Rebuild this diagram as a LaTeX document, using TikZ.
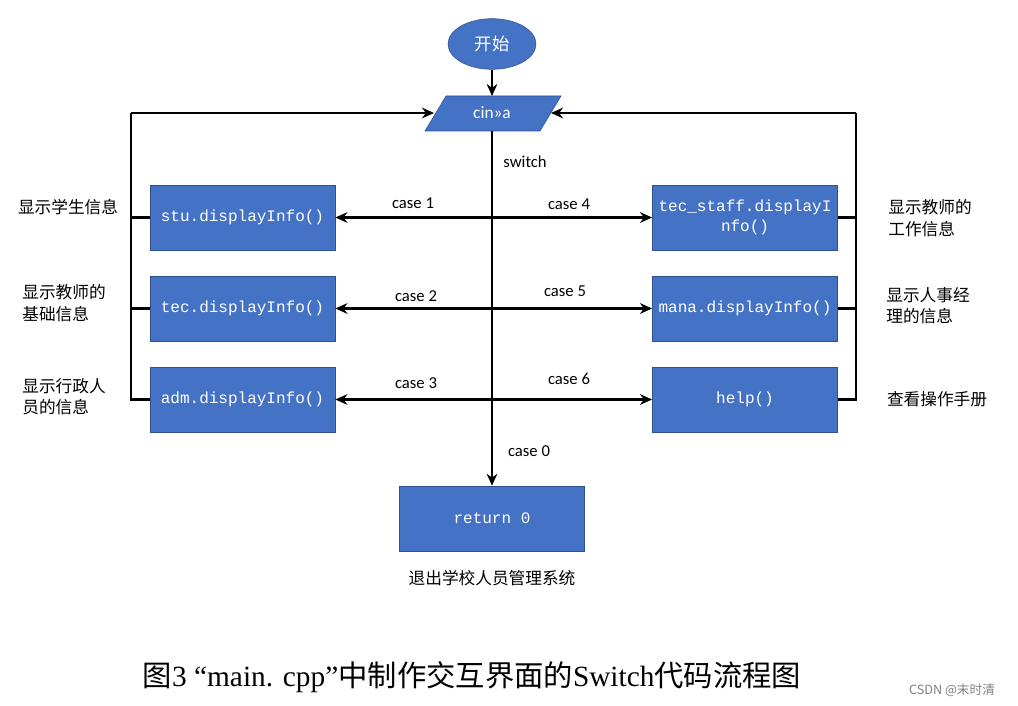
\documentclass[tikz,border=0pt]{standalone}
\usepackage{fontspec}
\setmainfont{Carlito}
\newfontfamily\cjk{Noto Sans CJK SC}
\newfontfamily\cmono{Liberation Mono}
\newfontfamily\capfont{Liberation Serif}
\usetikzlibrary{shapes.geometric,arrows.meta}
\definecolor{bx}{HTML}{4472C4}
\definecolor{bd}{HTML}{2F528F}
\begin{document}
\begin{tikzpicture}[x=0.75pt,y=-0.75pt,
  fbox/.style={draw=bd,fill=bx,text=white,minimum width=139pt,minimum height=48.75pt,inner sep=0pt,font=\cmono\fontsize{12}{15}\selectfont,align=center},
  lab/.style={font=\fontsize{12.5}{15}\selectfont},
  cl/.style={font=\cjk\fontsize{12.5}{16}\selectfont,align=left},
  ln/.style={line width=2.2pt},
  ar/.style={ln,-{Stealth[length=9pt,width=8pt]}}]
\useasboundingbox (0,0) rectangle (1018,706);
\node[ellipse,draw=bd,fill=bx,text=white,minimum width=66pt,minimum height=38pt,inner sep=0pt,font=\cjk\fontsize{13}{15}\selectfont] (start) at (492,44) {开始};
\draw[draw=bd,fill=bx] (425,131) -- (446,96) -- (561,96) -- (540,131) -- cycle;
\node[text=white,lab,font=\fontsize{13}{15}\selectfont] (cin) at (492,113) {cin>>a};
\coordinate (cinT) at (492,96);
\coordinate (cinB) at (492,131);
\coordinate (cinL) at (434,113);
\coordinate (cinR) at (551,113);
\node[fbox] (stu) at (242.5,217.5) {stu.displayInfo()};
\node[fbox] (tec) at (242.5,308.5) {tec.displayInfo()};
\node[fbox] (adm) at (242.5,399.5) {adm.displayInfo()};
\node[fbox] (tst) at (745,217.5) {tec\_staff.displayI\\nfo()};
\node[fbox] (man) at (745,308.5) {mana.displayInfo()};
\node[fbox] (hlp) at (745,399.5) {help()};
\node[fbox] (ret) at (492,518.5) {return 0};
\draw[ar] (start) -- (cinT);
\draw[ar] (cinB) -- (ret.north);
\foreach \a/\b/\y in {stu/tst/217.5,tec/man/308.5,adm/hlp/399.5}{
  \coordinate (m\a) at (492,\y);
  \draw[ar] (m\a) -- (\a.east);
  \draw[ar] (m\a) -- (\b.west);}
\coordinate (lt) at (131,113); \coordinate (lb) at (131,399.5);
\coordinate (rt) at (856,113); \coordinate (rb) at (856,399.5);
\draw[ln] (adm.west) -- (lb) -- (lt);
\draw[ar] (lt) -- (cinL);
\draw[ln] (stu.west) -- (131,217.5); \draw[ln] (tec.west) -- (131,308.5);
\draw[ln] (hlp.east) -- (rb) -- (rt);
\draw[ar] (rt) -- (cinR);
\draw[ln] (tst.east) -- (856,217.5); \draw[ln] (man.east) -- (856,308.5);
\node[lab] (sw) at (525,162) {switch};
\node[lab] (c1) at (413,203) {case 1};
\node[lab] (c4) at (569,204) {case 4};
\node[lab] (c2) at (416,296) {case 2};
\node[lab] (c5) at (565,291) {case 5};
\node[lab] (c3) at (416,383) {case 3};
\node[lab] (c6) at (569,379) {case 6};
\node[lab] (c0) at (529,451) {case 0};
\node[cl] (t1) at (68,207) {显示学生信息};
\node[cl] (t2) at (64,303) {显示教师的\\基础信息};
\node[cl] (t3) at (64,397) {显示行政人\\员的信息};
\node[cl] (t4) at (930,218) {显示教师的\\工作信息};
\node[cl] (t5) at (928,306) {显示人事经\\理的信息};
\node[cl] (t6) at (937,399) {查看操作手册};
\node[cl] (t7) at (492,578) {退出学校人员管理系统};
\node[font=\fontsize{22}{26}\selectfont] (cap) at (472,677) {\cjk 图\capfont 3 “main. cpp”\cjk 中制作交互界面的\capfont Switch\cjk 代码流程图};
\node[text=gray,font=\cjk\fontsize{9.5}{11}\selectfont] (wm) at (952,690) {CSDN @末时清};
\end{tikzpicture}
\end{document}
